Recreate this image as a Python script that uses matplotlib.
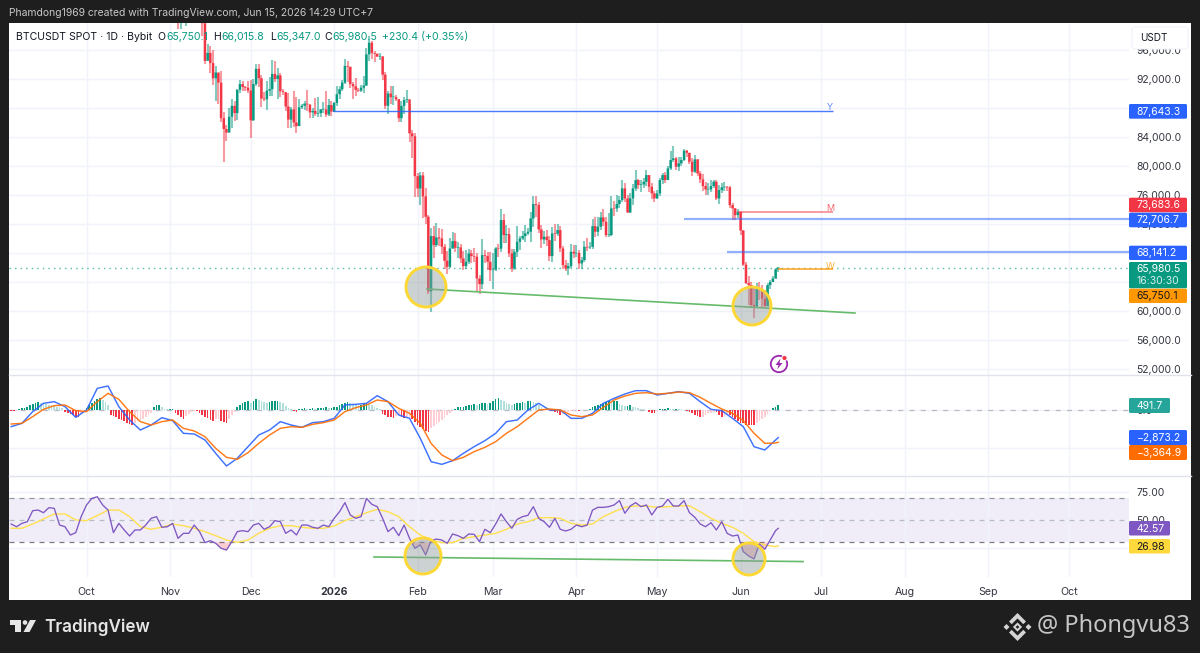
import matplotlib
matplotlib.use("Agg")
import numpy as np
import matplotlib.pyplot as plt
from matplotlib.patches import FancyBboxPatch, Ellipse, Polygon, Circle

plt.rcParams['font.family'] = ['Inter', 'DejaVu Sans']

# ---------- data (days counted from 1 Oct 2025; prices in thousands of USDT) ----------
first_candle_day = 33
closes = [106.5,101.5,103.9,101.3,103.3,102.3,104.7,106.0,103.0,101.7,
 99.7,94.5,95.6,94.2,92.1,92.9,91.5,86.6,85.1,84.6,
 86.8,88.3,87.3,90.5,91.3,90.9,90.8,90.4,86.3,91.3,
 93.4,92.1,89.3,89.2,90.4,90.6,92.7,92.0,92.5,90.3,
 90.2,88.2,86.4,87.8,86.0,85.5,88.1,88.3,88.6,88.5,
 87.4,87.6,87.2,87.3,87.8,87.8,87.1,88.4,87.5,88.7,
 89.9,90.6,91.5,93.8,93.7,91.3,91.0,90.5,90.4,90.8,
 91.1,95.4,97.0,95.6,95.5,95.1,95.1,92.6,88.3,90.0,
 89.5,89.5,89.2,86.6,88.3,89.1,89.2,84.5,84.1,78.6,
 76.9,78.7,75.8,73.0,62.7,
 70.33,69.09,70.15,70.0,68.86,66.93,66.1,68.63,69.64,68.72,
 68.77,67.25,66.19,66.79,67.94,67.57,67.48,64.49,63.71,67.71,
 67.6,66.79,65.64,65.7,68.63,68.6,72.54,70.47,70.6,67.94,
 65.87,68.17,69.55,70.01,70.33,70.7,70.93,72.77,74.75,74.61,
 71.25,69.87,70.24,69.78,67.57,70.7,70.65,71.16,68.63,66.33,
 65.87,66.19,68.17,67.94,68.0,66.56,67.02,68.86,68.77,68.86,
 71.71,70.93,71.62,72.91,72.31,70.47,70.47,74.15,74.14,74.75,
 75.3,76.91,75.53,73.6,75.53,76.91,78.06,77.37,77.46,77.83,
 78.75,77.14,76.22,75.53,76.22,78.06,78.75,78.06,79.67,80.82,
 81.05,79.9,80.36,80.82,82.11,81.83,80.59,79.21,80.91,78.98,
 78.15,77.23,76.77,76.77,77.23,77.83,75.53,76.68,77.05,77.14,
 77.05,74.61,74.15,73.23,73.69,71.1,66.4,63.85,63.57,60.82,
 60.59,63.12,62.9,61.7,60.7,63.57,64.0,64.5,65.7501,65.9805]
highs = [108.0,106.6,104.5,104.2,103.9,103.6,105.5,107.0,107.5,105.3,
 104.9,99.0,96.8,96.6,96.0,93.8,92.7,93.1,87.4,85.6,
 88.0,89.2,88.9,90.6,91.9,91.7,91.0,91.7,91.9,92.0,
 94.0,94.0,92.6,90.2,91.7,92.3,94.6,94.5,93.5,92.8,
 90.6,89.8,90.0,88.2,90.3,89.5,89.3,88.6,89.0,90.5,
 88.0,88.0,89.4,89.5,87.9,88.8,90.4,89.3,88.9,88.8,
 91.0,91.0,91.8,94.7,94.5,93.5,91.6,92.1,90.7,91.2,
 92.4,96.3,97.9,97.2,95.8,95.5,95.6,95.2,93.0,90.4,
 91.1,91.1,89.8,89.2,88.9,89.5,90.5,88.5,85.0,84.6,
 79.0,79.2,79.2,76.9,73.2,71.5,
 71.7,72.2,71.4,71.3,69.3,68.3,70.0,70.9,70.8,69.5,
 69.3,68.3,68.4,68.6,68.4,68.7,68.0,65.0,69.9,68.4,
 68.2,68.2,68.0,68.8,69.3,74.0,73.4,71.8,71.5,68.6,68.6,
 71.7,70.3,71.0,71.8,71.5,73.7,75.9,75.9,75.0,71.9,
 71.0,71.2,70.4,71.6,72.0,72.0,71.7,69.0,67.0,66.6,
 69.3,69.1,69.1,68.4,67.4,69.7,70.1,69.5,72.7,72.9,
 73.0,73.6,74.0,73.0,73.5,75.8,75.2,76.0,75.9,78.1,
 77.6,76.0,76.3,77.5,79.4,78.2,78.0,78.4,79.4,78.8,
 77.6,76.5,76.7,78.3,79.0,79.2,80.0,82.0,82.7,81.3,
 81.2,81.3,82.3,82.2,81.8,81.1,81.5,81.0,79.3,78.9,
 77.8,77.6,78.0,78.0,78.0,77.4,77.6,77.8,77.3,77.3,
 74.9,74.2,74.0,73.7,71.2,66.8,64.8,64.0,63.5,63.9,
 64.0,63.6,62.9,63.8,64.3,64.8,65.9,66.0158]
lows = [105.3,98.9,98.9,100.3,99.3,101.5,101.5,104.3,102.5,100.8,
 97.9,94.0,94.6,92.8,91.2,89.0,88.5,86.1,80.6,83.5,
 84.7,85.3,86.2,86.3,90.0,90.3,90.3,90.0,83.9,86.2,
 91.0,90.9,88.2,88.9,87.7,89.6,89.6,91.6,89.3,89.5,
 89.8,87.6,85.2,85.2,85.4,84.5,87.4,87.8,87.7,87.6,
 86.6,86.6,86.9,86.7,86.8,87.3,86.8,86.9,86.9,87.4,
 88.3,89.3,90.4,91.3,91.6,90.7,89.2,89.6,90.2,90.2,
 90.0,91.0,94.5,94.7,94.3,95.0,94.6,91.9,87.8,87.2,
 88.5,88.4,88.9,86.1,86.1,87.2,88.7,83.3,81.1,75.7,
 75.7,74.6,72.8,72.0,62.4,59.9,
 67.3,68.8,68.9,67.8,65.8,65.1,65.9,68.6,68.2,67.3,
 66.6,65.6,65.8,66.5,66.6,66.8,62.6,62.4,63.0,66.6,
 65.7,64.2,63.0,65.5,67.4,68.2,69.4,69.4,67.5,65.4,65.6,
 67.4,68.4,69.8,69.5,70.5,69.5,71.6,72.9,70.7,68.7,
 69.3,69.0,66.9,66.8,69.6,70.3,68.2,65.8,65.5,64.9,
 65.9,67.3,67.5,65.8,65.8,66.8,68.3,68.5,68.6,70.2,
 70.4,71.2,71.7,70.2,70.2,70.3,73.1,73.7,74.2,75.0,
 75.1,73.5,73.5,74.6,76.5,76.8,76.4,77.0,77.3,76.4,
 75.5,75.0,75.4,75.8,77.5,77.7,78.0,79.5,80.5,79.4,
 79.3,80.0,80.7,81.2,80.3,78.6,79.0,78.6,77.6,76.6,
 76.0,76.0,76.4,77.0,75.3,74.8,76.3,76.6,76.5,74.2,
 72.6,72.5,72.8,70.5,66.2,63.7,60.8,60.5,59.0,60.7,
 61.5,60.6,60.6,60.6,63.1,64.0,64.4,65.347]

# MACD and signal, read every fourth day from day -28, plus the last bar
macd = [-1733,-1387,-173,693,867,347,-763,0,2253,2496,
 347,-1040,-2080,-1560,-797,-1109,-2427,-2496,-3120,-4507,
 -5824,-5027,-3814,-2600,-2080,-1213,-1560,-1803,-1317,-1213,
 -867,520,589,693,1491,867,-520,-867,
 -2947,-5373,-5651,-5270,-4507,-3814,-3190,-2427,-1213,-1040,
 0,693,0,0,-867,-867,-347,693,1213,1664,
 2011,2011,1560,1733,1907,1733,867,69,-69,-867,
 -1733,-3814,-4160,-3120,-2873.2]
signal = [-1456,-1387,-693,69,451,520,-69,-173,867,1733,
 1109,-173,-1213,-1560,-1213,-1040,-1907,-2184,-2774,-3987,
 -4923,-5131,-4438,-3467,-2600,-1907,-1733,-1803,-1491,-1317,
 -1040,-173,243,520,1040,867,173,-347,
 -1387,-3467,-4680,-5270,-4923,-4334,-3883,-3294,-2427,-1733,
 -867,0,104,0,-520,-693,-520,277,1040,1456,
 1733,1803,1664,1733,1872,1803,1317,693,104,-347,
 -1109,-2427,-3467,-3432,-3364.9]
# daily histogram from day -28, in steps of 34.67 USDT
hist_steps = [-3,-3,-2, 3,5,7,10, 14,18,22,24, 22,20,18,16,14,12,10,8,6,
 -6,-8,-12,-16,-20,-22, -12,-6, 6,14,22,28,32,35, 30,24,14,
 -15,-18,-22,-26,-30,-34,-38,-42,-45, -38,-34,-30,-26,-22,-16,-8,
 8,14,15, 10,3, 2,3,3, -8,-15,-22,-26, -18,-12,-6,-4,
 -4,-10,-15,-20,-25,-30,-32, -28,-26, -32,-36,-38, -28,-16,-6,
 8,14,20,24,26,22,26,32, 30,28,24,22,24,26,26,28,24,20, 12,6,2, -3,-5,
 2,3,5,4,4,5,4,5,5,6,8,6,7,8, 10,14,18,22,24, 20,18,17,16,16,17,20, 18, 14,10,6,3,
 -12,-15,-20,-22,-25,-18,-14,-20,-24,-22, -20,-28,-36,-44,-52,-58,-62,-65,
 -55,-48,-42,-36,-30,-24,-15,-8, -4,
 4,8,8,10,12,14,16,18,16,18,20,22,18,22,26,32,36,
 30,28,22,18,14,18,20,22,24,22,26,28,24,22, 14,8,4,2,1,
 -2,-6,-10,-14,-12,-6, -5,-4,-3,-2,-2,-1,-1,-1,
 4,8,12,16,18,20,24,26,24,26,28, 18,14,12,12,14,10,8,6,4,2,1,
 -6,-8,-8,-3, 2,3,4,5,4,3,4,3,2, -1,-3,-6,-10, -14,-18,-22,-20,-15,
 -10,-8,-6,-6, -14,-20,-18,-12,-14, -20,-28,-34,-38,-40,-44,-46,-46,-46,
 -40,-34,-28,-20,-12,-4, 5,8,14.18]

# RSI read every second day from day -28, plus the last bar
rsi = [46.4,44.0,47.0,48.5,58.3,58.9,56.5,61.0,60.4,45.5,
 44.0,36.6,38.7,53.0,63.4,69.3,70.8,63.4,58.9,38.7,
 47.0,41.1,35.7,41.1,41.1,45.5,51.5,53.0,43.5,44.0,
 47.0,33.6,38.1,38.1,45.5,39.6,29.8,31.5,29.2,24.7,
 23.2,30.7,39.6,40.5,39.6,
 45.5,47.0,41.7,44.0,49.4,48.5,38.1,41.1,36.6,45.5,
 45.5,43.5,42.6,45.5,44.0,51.5,57.4,65.5,54.5,51.5,
 53.0,69.3,64.0,61.9,51.5,39.6,43.5,36.0,45.5,33.6,
 24.7,27.7,18.8,31.5,33.0,32.1,29.2,37.5,36.0,33.6,
 37.5,37.2,30.7,41.7,38.7,46.4,55.4,48.5,42.6,50.6,
 53.0,54.2,61.9,51.5,48.5,43.5,51.5,41.7,40.2,41.7,
 45.5,44.0,45.5,58.9,61.3,61.3,61.9,63.4,67.3,56.0,
 62.5,65.5,61.9,63.4,54.5,61.3,62.5,68.5,62.5,62.5,
 67.3,56.5,52.4,46.4,44.0,47.6,41.1,48.5,38.1,35.7,
 36.6,21.7,17.9,15.2,28.6,23.8,32.1,40.5,42.57]
# RSI moving average read every fourth day from day -28, plus the last bar
rsi_ma = [42.6,42.6,46.4,50.9,55.4,55.4,50.0,49.4,53.9,58.9,
 58.9,53.0,44.0,41.7,43.5,46.4,44.9,42.6,39.6,36.0,
 32.1,30.1,32.1,38.1,42.6,44.9,44.9,43.5,42.6,42.6,
 44.6,49.4,53.0,56.5,59.5,57.4,53.0,44.0,
 36.6,32.1,29.8,29.8,33.6,35.1,36.6,38.1,41.7,46.4,
 48.5,52.1,52.1,51.5,47.0,45.5,46.4,53.0,57.4,61.3,
 62.5,62.5,61.3,61.9,62.5,62.8,57.4,51.5,47.0,43.5,
 38.1,30.7,27.7,26.2,26.98]

month_days = [0,31,61,92,123,151,182,212,243,273,304,335,365]
month_labels = ['Oct','Nov','Dec','2026','Feb','Mar','Apr','May','Jun','Jul','Aug','Sep','Oct']
price_ticks = [52000,56000,60000,64000,68000,72000,76000,80000,84000,88000,92000,96000]
hidden_price_ticks = [64000,68000,88000]   # covered by the value tags in the reference

last_close, last_open = 65980.5, 65750.1
level_y, level_m, level_mid, level_low = 87643.3, 73683.6, 72706.7, 68141.2
macd_last, signal_last, hist_last = -2873.2, -3364.9, 491.7

# ---------- colours ----------
UP, DOWN, BLUE, ORANGE, RED = '#089981', '#F23645', '#2962FF', '#FF6D00', '#F23645'
GRID, DARK, TXT = '#F0F3FA', '#1E1E1E', '#131722'
AMBER = '#FF9800'; PURPLE = '#7E57C2'; YELLOW = '#FDD835'; TREND = '#66BB6A'
FS = 7.5

W, H = 1200, 653
fig = plt.figure(figsize=(W/100, H/100), dpi=100, facecolor=DARK)

def rect(x0, y0, x1, y1):
    return [x0/W, 1-y1/H, (x1-x0)/W, (y1-y0)/H]

bgax = fig.add_axes([0,0,1,1], zorder=0)
bgax.set_xlim(0,W); bgax.set_ylim(H,0); bgax.axis('off')
bgax.add_patch(plt.Rectangle((9,23),1182,577,fc='white',ec='none'))

XL = (-28.8, 387.3)
def make_ax(y0, y1, z):
    a = fig.add_axes(rect(9,y0,1129,y1), zorder=z)
    a.patch.set_alpha(0)
    for s in a.spines.values(): s.set_visible(False)
    a.set_xlim(*XL)
    a.set_xticks(month_days)
    a.grid(True, color=GRID, lw=1)
    a.set_axisbelow(True)
    a.yaxis.tick_right()
    a.tick_params(axis='both', length=0, labelsize=FS, labelcolor='#333640', pad=5.5)
    a.tick_params(axis='x', labelbottom=False)
    return a

# ---------- price pane ----------
ax = make_ax(23, 375, 1)
ax.set_ylim(60000-64*137.93, 60000+288*137.93)
ax.set_yticks(price_ticks)
ax.set_yticklabels(['' if v in hidden_price_ticks else f'{v:,.1f}' for v in price_ticks])

c = np.array(closes)*1000; h = np.array(highs)*1000; l = np.array(lows)*1000
o = np.r_[closes[0]*1000, c[:-1]]
d = first_candle_day + np.arange(len(c))
cols = np.where(c >= o, UP, DOWN)
ax.axhline(last_close, color=UP, lw=1, ls=(0,(1,3)), alpha=0.7, zorder=1)
ax.vlines(d, l, h, colors=cols, lw=1.5, alpha=0.5, zorder=3)
bars = ax.bar(d, np.maximum(np.abs(c-o), 80), bottom=np.minimum(o,c), width=0.92, color=cols, zorder=4, lw=0)
for b in bars:
    b.set_snap(False)

def seg(a, x0, x1, v, col, lw, alpha=1.0):
    a.plot([x0,x1],[v,v],color=col,lw=lw,alpha=alpha,solid_capstyle='butt',zorder=5)
seg(ax, 91.6, 277.3, level_y, BLUE, 1.0, 0.85)
seg(ax, 242, 277.3, level_m, RED, 1.4, 0.5)
seg(ax, 222, XL[1], level_mid, BLUE, 1.6, 0.5)
seg(ax, 238, XL[1], level_low, BLUE, 1.6, 0.5)
seg(ax, 257, 277.3, last_open, AMBER, 1.3, 0.75)
ax.plot([126.5,285.5],[63034,59724],color=TREND,lw=1.2,zorder=5)
for day, v, s, col in [(276.2,level_y,'Y',BLUE),(276.2,level_m,'M',RED),(276.2,last_open,'W',AMBER)]:
    ax.text(day, v-200, s, color=col, fontsize=6.5, ha='center', va='bottom', alpha=0.75, zorder=6)

# ---------- MACD pane ----------
axm = make_ax(376, 475, 1)
axm.set_ylim(-(475-410)*104, (410-376)*104)
axm.set_yticks([-4000,0])
axm.set_yticklabels(['','0.0'])
four_days = np.r_[np.arange(-28,257,4), 257]
hist = np.array(hist_steps)*34.67
hist_days = np.arange(-28,-28+len(hist))
prev = np.r_[hist[0], hist[:-1]]
hc = ['#089981' if v>=0 and v>=p else '#B2DFDB' if v>=0 else '#FFCDD2' if v>p else '#F23645'
      for v,p in zip(hist,prev)]
axm.axhline(0,color='#B8BBC4',lw=0.9,ls=(0,(4,5)),zorder=1)
axm.bar(hist_days,hist,width=0.62,color=hc,lw=0,zorder=2)
axm.plot(four_days,macd,color=BLUE,lw=1.05,alpha=0.9,zorder=3)
axm.plot(four_days,signal,color=ORANGE,lw=1.05,alpha=0.9,zorder=4)

# ---------- RSI pane ----------
axr = make_ax(476, 577, 1)
axr.set_ylim(50-(577-520)/1.12, 50+(520-476)/1.12)
axr.set_yticks([25,50,75])
axr.set_yticklabels(['','50.00','75.00'])
axr.tick_params(axis='x', labelbottom=True, pad=7, labelsize=7.6)
axr.set_xticklabels(month_labels)
for t, s in zip(axr.get_xticklabels(), month_labels):
    if s == '2026':
        t.set_fontweight('bold')
axr.axhspan(30,70,color=PURPLE,alpha=0.1,lw=0,zorder=0.5)
for v,col in [(70,'#9598A1'),(50,'#B8BBC4'),(30,'#787B86')]:
    axr.axhline(v,color=col,lw=0.9,ls=(0,(4,4)),zorder=1)
two_days = np.r_[np.arange(-28,257,2), 257]
axr.fill_between(two_days,rsi,30,where=np.array(rsi)<30,interpolate=True,color=RED,alpha=0.25,lw=0,zorder=1.5)
axr.plot(four_days,rsi_ma,color='#FFE04D',lw=1.0,zorder=3)
axr.plot(two_days,rsi,color=PURPLE,lw=0.95,zorder=4)
axr.plot([106.8,266.2],[17,12.9],color=TREND,lw=1.2,zorder=5)

# ---------- overlay in image pixels: circles, labels, header, footer ----------
ov = fig.add_axes([0,0,1,1], zorder=10)
ov.set_xlim(0,W); ov.set_ylim(H,0); ov.axis('off'); ov.patch.set_alpha(0)

for cx,cy,rx in [(426,287,20),(752,306,19),(423,556,18),(749,559,16)]:
    ov.add_patch(Ellipse((cx,cy),2*rx,2*rx,fc='#8F9C9C',ec='none',alpha=0.45))
    ov.add_patch(Ellipse((cx,cy),2*rx,2*rx,fc='none',ec=YELLOW,lw=2.1))

for y in (375,475.5):
    ov.plot([9,1191],[y,y],color='#E0E3EB',lw=1)

def box(x0,y0,x1,y1,fc,s,tc='white'):
    ov.add_patch(FancyBboxPatch((x0,y0),x1-x0,y1-y0,boxstyle='round,pad=0,rounding_size=1.5',fc=fc,ec='none'))
    ov.text(x0+7.5,(y0+y1)/2+0.3,s,color=tc,fontsize=FS,ha='left',va='center')

ov.add_patch(FancyBboxPatch((1132,27),56,22,boxstyle='round,pad=0,rounding_size=3',fc='white',ec='#F0F3FA',lw=0.8))
ov.text(1140,38,'USDT',color=TXT,fontsize=7.2,ha='left',va='center')
box(1129,104,1187,118.7,BLUE,f'{level_y:,.1f}')
box(1129,197.7,1187,212.3,RED,f'{level_m:,.1f}')
box(1129,212.7,1187,227.3,BLUE,f'{level_mid:,.1f}')
box(1129,245.7,1187,260,BLUE,f'{level_low:,.1f}')
ov.add_patch(FancyBboxPatch((1129,262),58,26.3,boxstyle='round,pad=0,rounding_size=1.5',fc=UP,ec='none'))
ov.text(1136.5,269,f'{last_close:,.1f}',color='white',fontsize=FS,ha='left',va='center')
ov.text(1136.5,281,'16:30:30',color='#D5EFEA',fontsize=FS,ha='left',va='center')
box(1129,288.7,1187,303,AMBER,f'{last_open:,.1f}',TXT)
box(1129,398,1170,413,'#26A69A',f'{hist_last:,.1f}')
box(1129,430,1187,445,BLUE,f'\u2212{abs(macd_last):,.1f}')
box(1129,445,1187,460,ORANGE,f'\u2212{abs(signal_last):,.1f}')
box(1129,521,1170,535.5,PURPLE,f'{rsi[-1]:.2f}')
box(1129,539,1170,553.5,'#FFD93B',f'{rsi_ma[-1]:.2f}',TXT)

# legend line
ov.text(16,37,'BTCUSDT SPOT \u00b7 1D \u00b7 Bybit',color=TXT,fontsize=7.55,va='center')
for x,s,col in [(157,'O',TXT),(166,'65,750.1',UP),(213,'H',TXT),(221,'66,015.8',UP),(270,'L',TXT),(276,'65,347.0',UP),
                (324,'C',TXT),(332,'65,980.5',UP),(382,'+230.4 (+0.35%)',UP)]:
    ov.text(x,37,s,color=col,fontsize=7.55,va='center')

# header and footer
ov.text(9,13.5,'Phamdong1969 created with TradingView.com, Jun 15, 2026 14:29 UTC+7',color='#C8C8C8',fontsize=7.47,va='center')
ov.text(44,627,'TradingView',color='#E6E6E6',fontsize=12.3,fontweight='semibold',va='center')
LOGO = '#E6E6E6'
ov.add_patch(Polygon([(10,620),(21,620),(21,632),(15,632),(15,624.5),(10,624.5)],fc=LOGO,ec='none'))
ov.add_patch(Circle((25,622.5),2.3,fc=LOGO,ec='none'))
ov.add_patch(Polygon([(30,620),(36,620),(29.5,632),(23.5,632)],fc=LOGO,ec='none'))

ov.text(1037,626.5,'@ Phongvu83',color='#C6C6C6',fontsize=17,family=['Noto Sans','DejaVu Sans'],va='center')
# exchange mark: chevrons, side diamonds, centre ring
ICX, ICY, ICC = 1017.5, 627, '#D4D4D4'
def mark(points):
    ov.add_patch(Polygon([(ICX+px, ICY+py) for px,py in points],fc=ICC,ec='none'))
mark([(0,-14),(8.5,-5.5),(5.8,-2.8),(0,-8.6),(-5.8,-2.8),(-8.5,-5.5)])
mark([(0,14),(8.5,5.5),(5.8,2.8),(0,8.6),(-5.8,2.8),(-8.5,5.5)])
mark([(-14,0),(-11,-3),(-8,0),(-11,3)])
mark([(14,0),(11,-3),(8,0),(11,3)])
mark([(0,-4.6),(4.6,0),(0,4.6),(-4.6,0)])
ov.add_patch(Polygon([(ICX,ICY-1.8),(ICX+1.8,ICY),(ICX,ICY+1.8),(ICX-1.8,ICY)],fc=DARK,ec='none'))

# lightning badge
ov.add_patch(Circle((779,364),8.2,fc='white',ec='#9C27B0',lw=1.3))
ov.add_patch(Polygon([(780.5,358.5),(775.5,365),(778.5,365),(777,369.5),(782.5,363),(779.5,363)],fc='#9C27B0',ec='none'))
ov.add_patch(Circle((784.5,358),2.6,fc='#F23645',ec='white',lw=0.7))

fig.savefig('out.png', dpi=100, facecolor=DARK)
